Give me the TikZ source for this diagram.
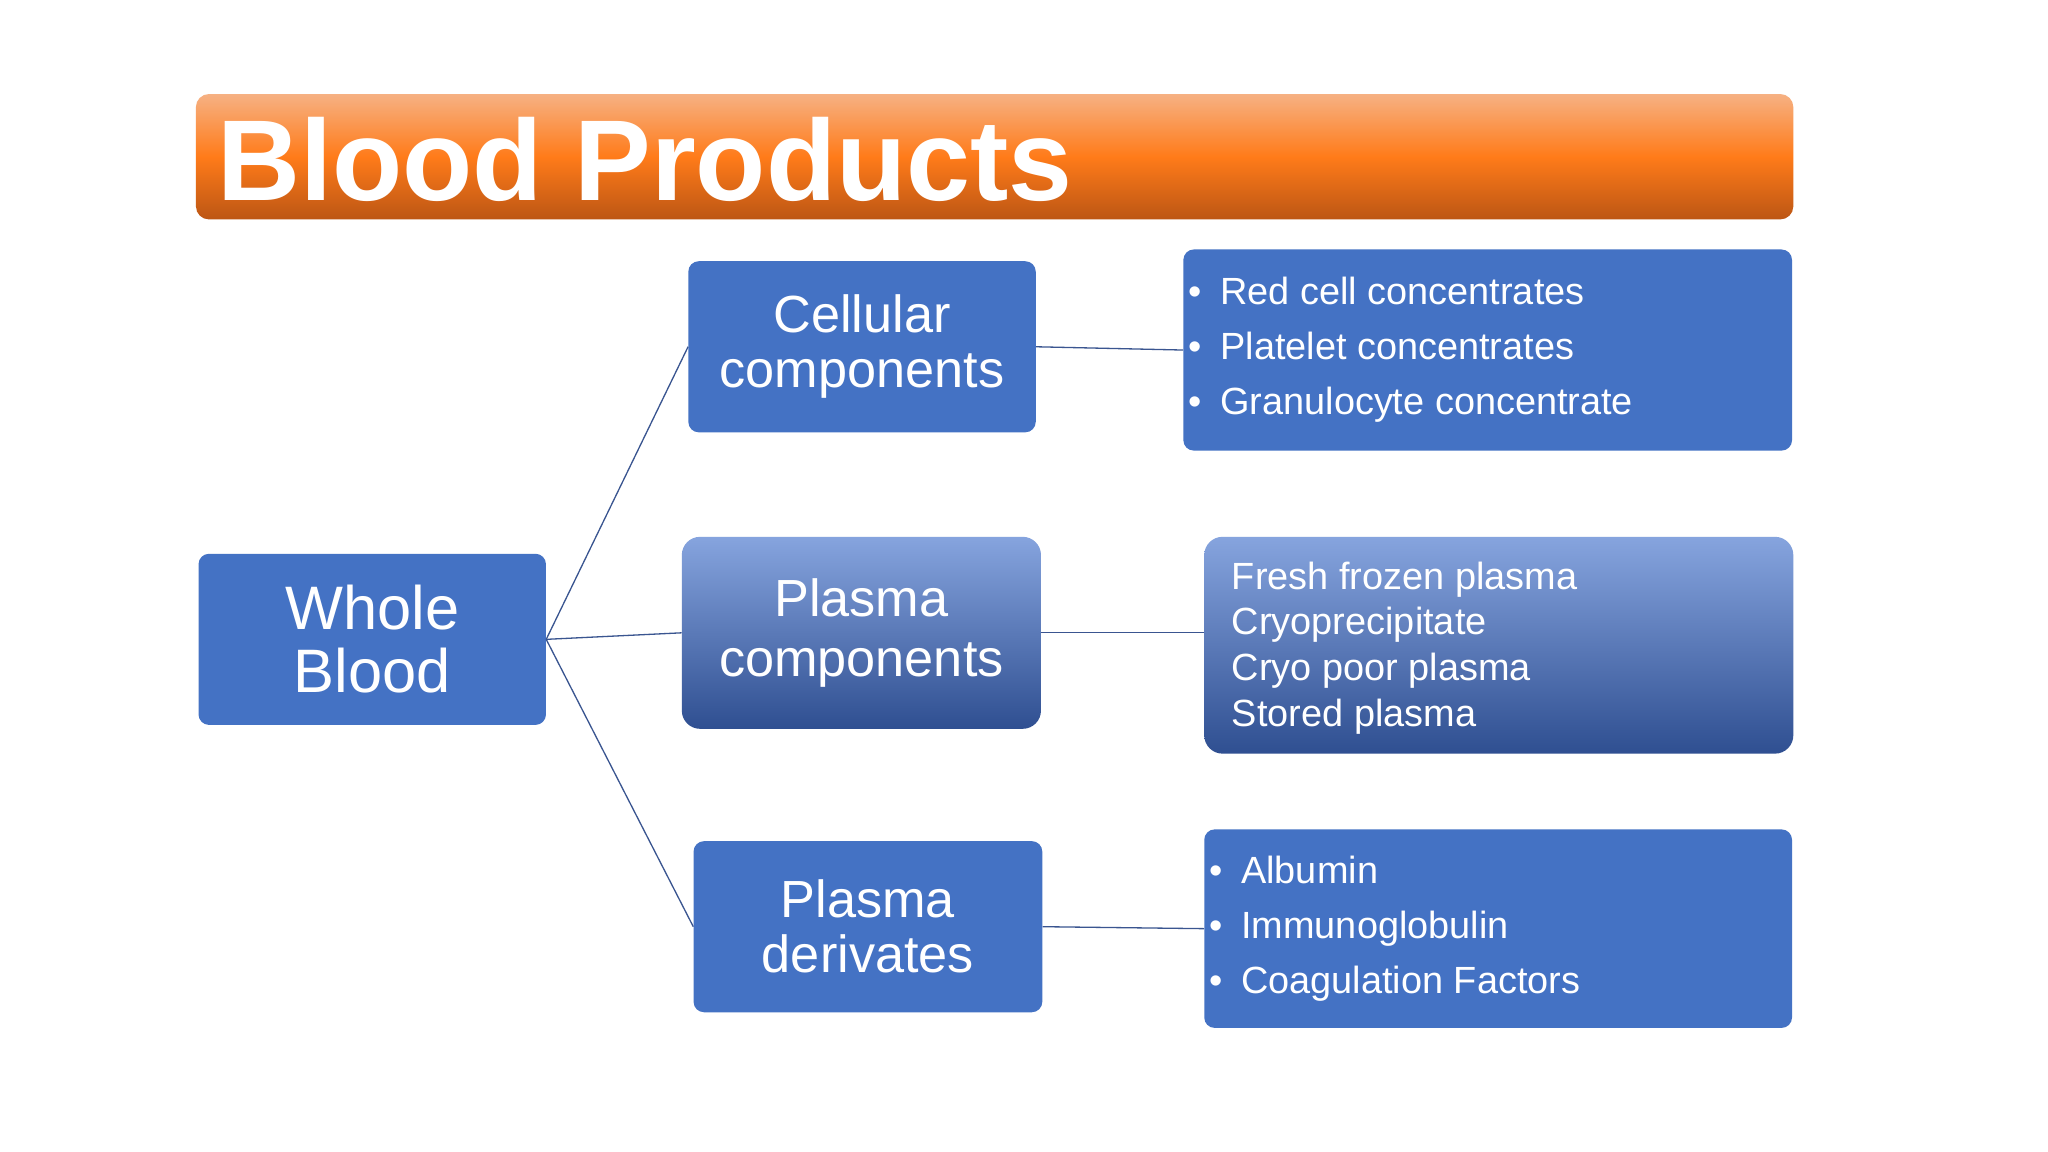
\documentclass[tikz,border=0pt]{standalone}
\usepackage{fontspec}
\setmainfont{Liberation Sans}
\begin{document}
\begin{tikzpicture}[x=1pt,y=-1pt,
  blk/.style={draw=none,fill=boxblue,rounded corners=8pt,text=white,align=center,inner sep=0pt,font=\fontsize{40}{42}\selectfont},
  grad/.style={draw=none,rounded corners=14pt,top color=gtop,bottom color=gbot,text=white,align=center,inner sep=0pt,font=\fontsize{40}{46}\selectfont},
  lst/.style={text=white,align=left,anchor=west,inner sep=0pt,font=\fontsize{29}{42}\selectfont},
  con/.style={draw=linecol,line width=1pt}]
\definecolor{boxblue}{HTML}{4472C4}
\definecolor{gtop}{HTML}{86A4DE}
\definecolor{gbot}{HTML}{2F4F91}
\definecolor{linecol}{HTML}{3A5590}
\definecolor{otop}{HTML}{F6B183}
\definecolor{obot}{HTML}{BC5614}
\useasboundingbox[fill=white] (0,0) rectangle (1568,882);
% title
\node[draw=none,rounded corners=10pt,top color=otop,bottom color=obot,middle color=orange!85!red!90!white,minimum width=1223pt,minimum height=96pt,inner sep=0pt] (title) at (761.5,120) {};
\node[anchor=west,text=white,inner sep=0pt,font=\fontsize{88}{90}\selectfont\bfseries] (tt) at (166,122) {Blood Products};
% left
\node[blk,minimum width=266pt,minimum height=131pt,font=\fontsize{47}{48}\selectfont] (wb) at (285,489.5) {Whole\\Blood};
\node[blk,minimum width=266pt,minimum height=131pt] (cc) at (660,265.5) {Cellular\\components};
\node[grad,minimum width=275pt,minimum height=147pt] (pc) at (659.5,484.5) {Plasma\\components};
\node[blk,minimum width=267pt,minimum height=131pt] (pd) at (664.5,709.5) {Plasma\\derivates};
% right
\node[blk,minimum width=466pt,minimum height=154pt] (r1) at (1139,268) {};
\node[grad,minimum width=451pt,minimum height=166pt] (r2) at (1147.5,494) {};
\node[blk,minimum width=450pt,minimum height=152pt] (r3) at (1147,711) {};
\node[lst] (t1) at (910,268) {•\hspace{14pt}Red cell concentrates\\•\hspace{14pt}Platelet concentrates\\•\hspace{14pt}Granulocyte concentrate};
\node[lst,font=\fontsize{29}{35}\selectfont] (t2) at (943,496) {Fresh frozen plasma\\Cryoprecipitate\\Cryo poor plasma\\Stored plasma};
\node[lst] (t3) at (926,711) {•\hspace{14pt}Albumin\\•\hspace{14pt}Immunoglobulin\\•\hspace{14pt}Coagulation Factors};
% connectors
\draw[con] (wb.east) -- (cc.west);
\draw[con] (wb.east) -- (pc.west);
\draw[con] (wb.east) -- (pd.west);
\draw[con] (cc.east) -- (r1.west);
\draw[con] (pc.east) -- (r2.west |- pc.east);
\draw[con] (pd.east) -- (r3.west);
\end{tikzpicture}
\end{document}
